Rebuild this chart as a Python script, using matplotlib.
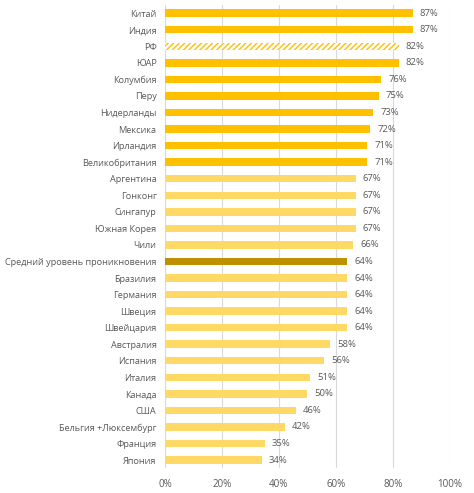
import numpy as np
import matplotlib.pyplot as plt
from matplotlib.ticker import PercentFormatter

plt.rcParams['font.family'] = ['Open Sans', 'DejaVu Sans']
plt.rcParams['hatch.linewidth'] = 1.0

countries = ['Китай', 'Индия', 'РФ', 'ЮАР', 'Колумбия', 'Перу', 'Нидерланды',
             'Мексика', 'Ирландия', 'Великобритания', 'Аргентина', 'Гонконг',
             'Сингапур', 'Южная Корея', 'Чили', 'Средний уровень проникновения',
             'Бразилия', 'Германия', 'Швеция', 'Швейцария', 'Австралия',
             'Испания', 'Италия', 'Канада', 'США', 'Бельгия +Люксембург',
             'Франция', 'Япония']
values = [87, 87, 82, 82, 76, 75, 73, 72, 71, 71, 67, 67, 67, 67, 66, 64,
          64, 64, 64, 64, 58, 56, 51, 50, 46, 42, 35, 34]

dark = '#FFC000'
light = '#FFD966'
avg = '#BF9000'
colors = [dark] * 10 + [light] * 5 + [avg] + [light] * 12

fig = plt.figure(figsize=(4.74, 4.93), dpi=100)
ax = fig.add_axes([0.348, 0.05, 0.601, 0.94])

y = np.arange(len(countries))
bars = ax.barh(y, values, height=0.45, color=colors, zorder=2)
# РФ bar is hatched
rf = bars[2]
rf.set_facecolor('white')
rf.set_edgecolor(dark)
rf.set_hatch('//////')
rf.set_linewidth(0)

for yi, v in zip(y, values):
    ax.text(v + 2.5, yi, f'{v}%', va='center', ha='left', fontsize=6.8, color='#595959')

ax.set_ylim(len(countries) - 0.5, -0.5)
ax.set_xlim(0, 100)
ax.set_xticks(np.arange(0, 101, 20))
ax.xaxis.set_major_formatter(PercentFormatter(decimals=0))
ax.set_yticks(y)
ax.set_yticklabels(countries)
ax.tick_params(axis='both', length=0, labelsize=6.6, labelcolor='#595959')
ax.tick_params(axis='x', pad=8, labelsize=7)
ax.tick_params(axis='y', pad=6)
ax.grid(axis='x', color='#D9D9D9', linewidth=0.8, zorder=0)
for s in ax.spines.values():
    s.set_visible(False)

fig.savefig('out.png', dpi=100)
